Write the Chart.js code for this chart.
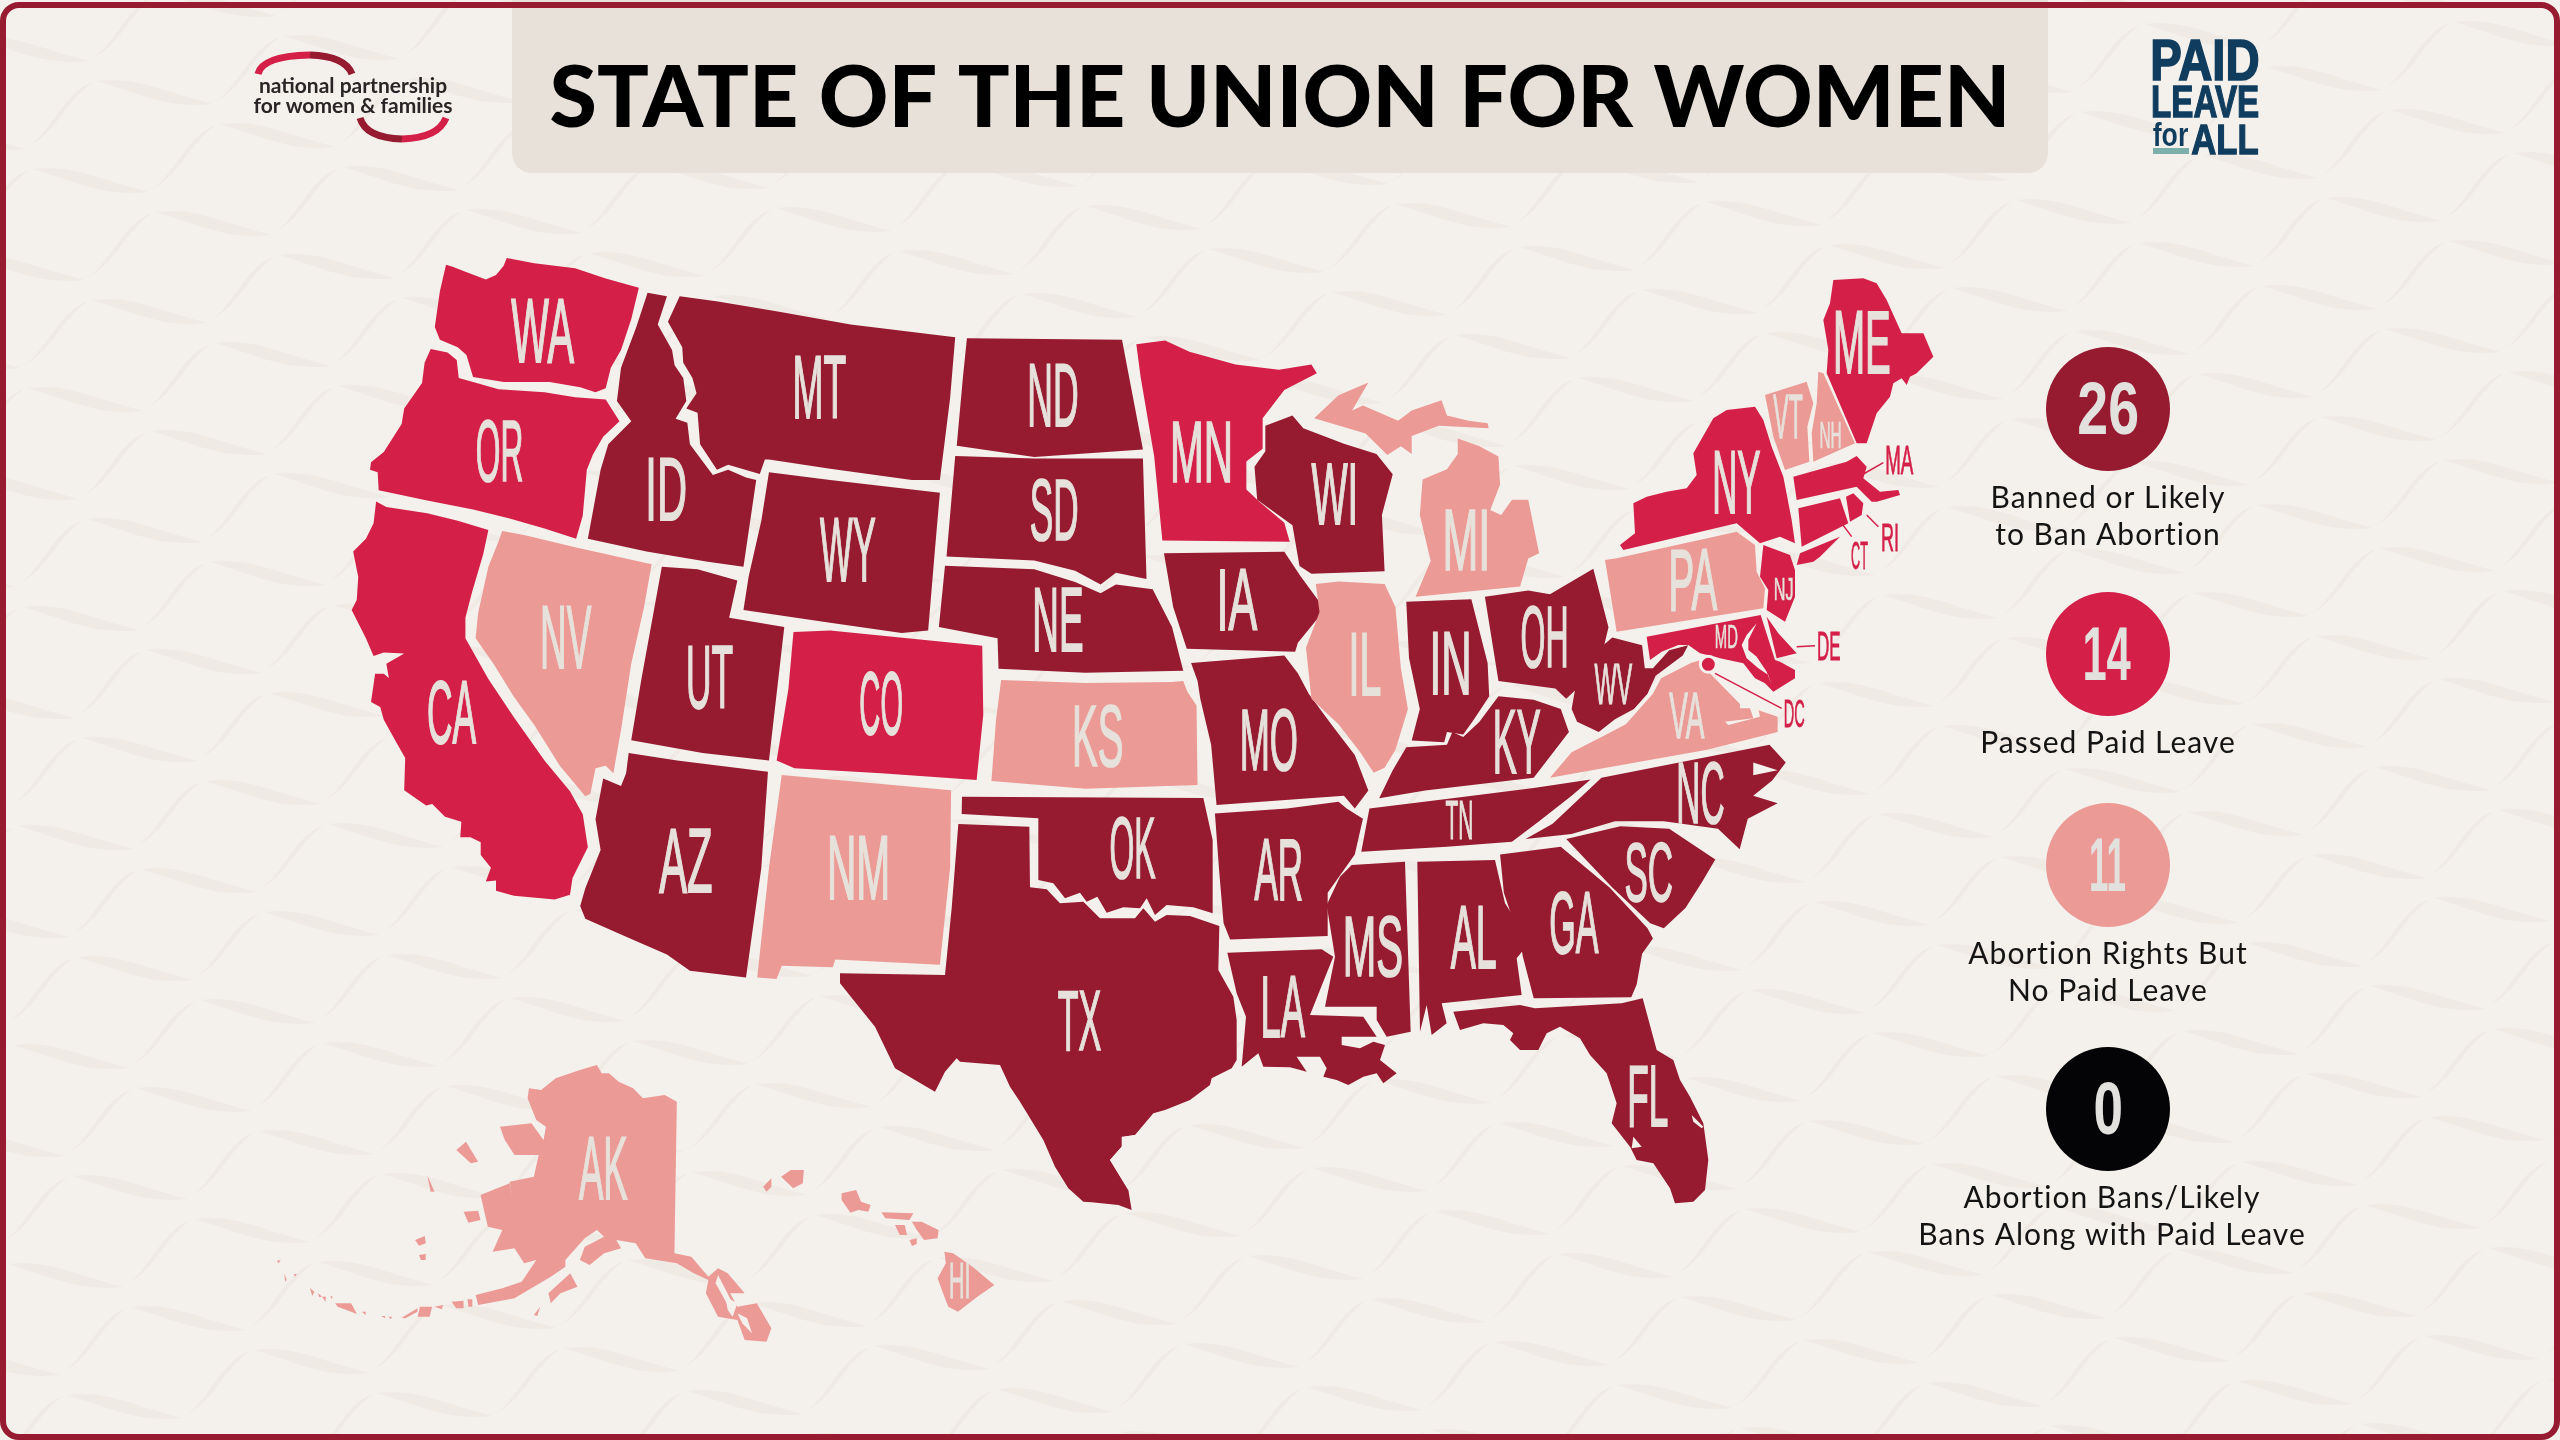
<!DOCTYPE html>
<html>
<head>
<meta charset="utf-8">
<title>State of the Union for Women</title>
<script src="https://cdn.jsdelivr.net/npm/chart.js@4"></script>
<style>
  html, body { margin: 0; padding: 0; background: #f4f1ec; }
  canvas { display: block; }
</style>
</head>
<body>
<canvas id="map" width="2560" height="1440"></canvas>
<script>
// categories
const bannedStates = ['ID', 'MT', 'WY', 'ND', 'SD', 'NE', 'UT', 'AZ', 'OK', 'TX', 'IA', 'MO', 'AR', 'LA', 'WI', 'IN', 'OH', 'KY', 'TN', 'WV', 'NC', 'SC', 'GA', 'FL', 'AL', 'MS'];
const paidLeaveStates = ['WA', 'OR', 'CA', 'CO', 'MN', 'NY', 'ME', 'MA', 'CT', 'RI', 'NJ', 'DE', 'MD', 'DC'];
const rightsStates = ['NV', 'NM', 'KS', 'IL', 'MI', 'PA', 'VT', 'NH', 'VA', 'AK', 'HI'];

// legend
const legendCounts = [26, 14, 11, 0];
const legendLabels = [
    ['Banned or Likely', 'to Ban Abortion'],
    ['Passed Paid Leave'],
    ['Abortion Rights But', 'No Paid Leave'],
    ['Abortion Bans/Likely', 'Bans Along with Paid Leave']
];
const legendColors = ['#961a30', '#d41f48', '#ec9a96', '#040406'];
const legendY = [409, 654, 865, 1109];

const titleText = 'STATE OF THE UNION FOR WOMEN';

// outlines were traced on crops of the map, each crop has its own offset and scale
const crops = {
    W: [320, 230, 0.5102, 0.5102],
    E: [1100, 260, 0.5421, 0.5102],
    N: [1600, 270, 1 / 3, 1 / 3],
    A: [260, 1040, 0.4847, 1 / 3],
    T: [820, 800, 1 / 3, 1 / 3],
    S: [1220, 860, 1 / 3, 1 / 3]
};

const outlines = [
    ['WA', 'W', [247,68,260,72,285,82,325,97,345,88,360,70,366,55,420,65,500,75,560,95,625,113,610,175,590,235,570,270,560,310,540,318,510,308,450,298,360,298,300,288,287,245,270,230,235,215,225,190,235,120]],
    ['OR', 'W', [217,233,250,240,268,255,272,290,300,298,350,312,440,318,500,328,560,332,587,375,555,405,535,440,523,470,515,560,502,605,440,585,370,565,300,548,210,530,115,510,113,475,98,470,100,455,125,435,160,380,165,350,200,300,205,260]],
    ['CA', 'W', [110,532,130,543,210,555,270,570,330,588,320,635,298,710,285,760,285,800,330,880,380,955,440,1040,490,1100,515,1145,525,1210,495,1270,490,1303,460,1312,380,1305,345,1295,345,1275,325,1277,335,1250,315,1225,315,1200,295,1190,275,1190,277,1160,245,1150,220,1125,208,1128,165,1098,167,1035,150,1005,125,960,118,935,100,925,108,870,125,870,135,878,130,850,165,830,125,828,105,835,90,800,62,745,72,725,75,680,65,630,90,605,105,575]],
    ['NV', 'W', [357,590,400,598,500,622,650,655,635,740,610,850,590,980,575,1065,560,1050,540,1055,530,1105,520,1110,470,1050,420,970,380,915,340,850,305,800,310,750,330,660,350,610]],
    ['ID', 'W', [642,123,680,130,662,185,690,235,695,265,712,290,718,335,697,370,720,378,725,420,770,480,800,470,835,485,855,490,830,660,760,650,640,630,525,605,550,470,565,420,610,375,582,335,590,270,620,190]],
    ['MT', 'W', [705,130,780,140,900,160,1040,185,1245,210,1235,330,1215,490,1160,490,1000,468,880,450,872,450,862,478,800,460,778,470,745,420,740,358,718,350,738,320,730,290,712,260,710,230,682,180]],
    ['WY', 'W', [880,475,1000,490,1215,515,1205,630,1192,785,1140,790,1000,770,830,745,840,680,865,570]],
    ['UT', 'W', [670,660,740,665,818,687,802,760,910,778,880,1040,750,1025,610,1000,630,880]],
    ['CO', 'W', [928,788,1000,785,1298,815,1300,950,1287,1078,1100,1065,930,1055,895,1040,918,900]],
    ['NM', 'W', [905,1068,1237,1098,1235,1250,1215,1440,1010,1430,1005,1445,905,1442,895,1468,857,1465,880,1250]],
    ['AZ', 'W', [605,1025,700,1040,878,1062,865,1250,835,1465,725,1452,680,1420,600,1385,520,1350,510,1325,520,1290,550,1215,540,1155,555,1075,590,1090,600,1065]],
    ['ND', 'W', [1268,212,1572,215,1582,268,1613,430,1400,445,1248,423,1260,290]],
    ['SD', 'W', [1245,443,1400,448,1613,448,1620,684,1560,672,1530,695,1480,668,1400,648,1228,640]],
    ['NE', 'W', [1225,658,1400,665,1480,690,1530,712,1560,695,1632,704,1670,778,1692,864,1500,868,1330,860,1328,800,1213,778]],
    ['KS', 'W', [1335,882,1500,888,1670,886,1692,884,1700,905,1718,932,1720,1088,1500,1095,1316,1080,1325,960]],
    ['OK', 'T', [426,-10,1150,-6,1178,120,1178,340,1120,322,1040,315,1005,345,980,295,960,325,910,322,860,338,832,290,800,305,780,278,735,295,700,250,655,240,655,55,425,42]],
    ['TX', 'T', [415,72,628,80,630,262,680,268,720,310,790,305,840,355,945,355,970,325,1005,365,1040,345,1110,348,1198,378,1195,510,1240,590,1250,660,1250,780,1235,805,1175,835,1170,855,1110,900,1035,930,1000,940,945,1005,915,1010,905,1040,870,1080,925,1170,935,1230,895,1215,815,1207,790,1205,745,1165,705,1100,670,1020,600,905,570,860,540,795,420,785,410,775,375,815,345,875,225,805,165,680,60,550,60,520,375,525,395,325]],
    ['LA', 'S', [22,278,305,268,340,290,320,340,270,465,430,470,470,530,365,530,365,555,420,565,460,545,495,555,480,600,530,640,490,670,470,640,430,650,385,675,350,660,310,650,320,625,300,590,230,590,260,635,210,622,130,620,115,580,65,620,78,470,50,400]],
    ['MS', 'S', [395,15,555,5,572,515,500,530,470,480,470,440,315,440,345,290,320,135,360,50]],
    ['AL', 'S', [592,5,825,0,855,130,930,245,890,295,905,405,665,430,680,490,635,525,620,435,600,515]],
    ['AR', 'E', [212,1085,345,1075,440,1062,455,1075,485,1095,470,1165,420,1240,420,1325,240,1332,228,1300,220,1200]],
    ['MO', 'E', [168,790,340,775,365,810,385,850,430,915,470,970,495,1040,470,1075,450,1050,215,1068,205,950,185,860,180,825]],
    ['IA', 'E', [118,575,340,572,370,620,415,685,365,750,360,768,160,762,135,680]],
    ['MN', 'E', [67,165,120,158,165,180,250,205,330,215,390,205,400,222,340,255,300,310,300,370,270,395,270,450,295,475,340,515,350,552,115,550,100,385,75,230]],
    ['WI', 'E', [305,325,355,305,375,330,450,360,510,380,540,420,520,500,525,610,390,615,368,600,355,520,290,470,285,405,305,375]],
    ['MI', 'E', [395,310,440,265,495,240,465,295,485,285,550,315,575,295,630,275,640,305,680,315,715,320,717,330,625,325,575,345,575,380,555,365,530,382,490,340]],
    ['MI', 'E', [660,350,700,365,735,385,738,440,720,490,740,500,760,470,790,470,810,575,790,585,775,640,582,660,610,590,590,500,595,430,640,410,660,380]],
    ['IL', 'E', [398,635,440,630,525,635,545,680,555,800,568,880,545,960,525,995,505,1005,480,965,440,910,390,860,380,760,405,690]],
    ['IN', 'E', [565,670,685,665,715,790,718,855,690,900,670,930,640,925,635,945,575,942,590,880,570,780]],
    ['OH', 'E', [710,660,790,648,830,655,910,605,938,720,920,800,860,860,840,840,735,825]],
    ['KY', 'E', [735,855,800,862,850,880,865,925,800,1015,600,1040,515,1055,540,1000,565,955,640,950,650,925,670,935,700,905]],
    ['TN', 'E', [497,1075,650,1055,800,1035,905,1018,870,1050,810,1100,760,1140,640,1150,482,1160]],
    ['WV', 'E', [945,740,1000,755,1005,800,1020,800,1050,765,1085,755,1075,775,1025,815,1010,850,985,880,950,900,920,925,880,905,870,880,880,820,890,790]],
    ['VA', 'E', [1105,785,1125,810,1180,870,1250,895,1250,925,1120,960,830,1015,870,965,925,935,970,910,1020,850,1035,820,1090,790]],
    ['NC', 'E', [925,1015,1235,950,1265,985,1240,1020,1205,1050,1250,1065,1195,1095,1180,1155,1140,1115,1040,1100,950,1100,870,1125,785,1135,835,1105,880,1060]],
    ['SC', 'E', [860,1135,960,1110,1050,1115,1135,1175,1110,1220,1080,1270,1040,1310,1015,1300,945,1230]],
    ['GA', 'E', [738,1165,850,1150,940,1230,1010,1310,1020,1330,1000,1360,990,1420,980,1445,800,1447,780,1365,775,1335,745,1240]],
    ['FL', 'S', [700,455,900,435,945,445,1205,430,1268,415,1310,570,1360,600,1380,660,1410,710,1450,790,1465,900,1455,990,1420,1025,1365,1030,1350,985,1300,910,1250,900,1230,860,1175,790,1190,730,1160,640,1110,585,1080,535,1020,500,980,520,955,570,900,570,870,540,880,520,850,495,790,490,720,510]],
    ['PA', 'N', [15,870,50,865,410,785,465,825,470,905,495,955,490,1015,50,1085]],
    ['NY', 'N', [60,825,105,790,100,700,140,680,200,665,260,655,290,615,280,550,340,445,380,420,465,410,490,450,515,530,550,620,575,750,585,820,540,800,480,820,410,760,70,840]],
    ['NY', 'N', [590,885,600,850,720,800,660,860,640,875]],
    ['NJ', 'N', [490,825,570,855,585,900,585,980,555,1055,500,1020,505,960,480,920]],
    ['VT', 'N', [495,375,620,335,640,400,622,470,628,575,555,600,520,500]],
    ['NH', 'N', [655,305,670,310,765,520,640,575,635,490,650,400]],
    ['ME', 'N', [700,30,790,25,830,40,860,90,905,190,970,190,1000,260,950,310,930,320,920,345,905,325,880,340,870,380,830,430,800,520,770,520,680,310,685,240,670,150,690,100]],
    ['MA', 'N', [580,620,740,575,770,558,800,590,790,625,840,665,895,660,900,675,830,695,815,695,770,650,590,690]],
    ['CT', 'N', [595,715,720,685,745,760,605,830]],
    ['RI', 'N', [738,680,760,670,790,700,785,735,750,755]],
    ['DE', 'N', [500,1040,535,1090,590,1150,530,1165]],
    ['MD', 'N', [140,1100,482,1035,525,1170,540,1175,585,1200,585,1225,520,1265,495,1240,465,1225,430,1180,360,1165,345,1160,300,1150,265,1125,235,1125,185,1145,150,1170]],
    ['AK', 'A', [555,145,580,150,610,115,660,90,695,75,705,100,720,100,740,125,770,145,790,175,835,165,860,185,855,640,890,650,925,710,945,685,965,700,1000,760,970,760,985,800,1025,790,1055,865,1045,905,1000,900,985,840,945,830,920,760,925,720,895,700,860,670,795,655,775,610,735,600,745,625,710,640,680,675,660,660,670,620,710,590,695,570,670,595,630,660,630,680,600,710,525,775,450,795,445,765,500,745,540,725,570,660,545,670,525,625,480,635,500,570,470,560,455,465,515,430,520,470,515,425,565,410,575,345,525,345,505,300,495,260,560,250,585,300,590,260,570,240,552,175]],
    ['AK', 'A', [405,330,425,305,450,365,435,370]],
    ['AK', 'A', [345,405,360,455,352,455]],
    ['AK', 'A', [420,515,450,512,455,540,430,548]],
    ['AK', 'A', [320,600,340,588,342,610,328,617]],
    ['AK', 'A', [328,645,342,642,342,660,332,660]],
    ['AK', 'A', [595,760,640,700,655,740,620,760,600,790]],
    ['AK', 'A', [565,825,578,800,572,828]],
    ['AK', 'A', [395,785,420,782,420,805,405,805]],
    ['AK', 'A', [428,778,438,778,438,800,430,800]],
    ['AK', 'A', [360,800,378,795,375,808]],
    ['AK', 'A', [330,800,355,800,350,830,325,830]],
    ['AK', 'A', [292,833,325,805,325,815,300,835]],
    ['AK', 'A', [250,828,258,828,258,835]],
    ['AK', 'A', [265,830,272,830,270,838]],
    ['AK', 'A', [210,815,218,815,218,825]],
    ['AK', 'A', [155,790,188,790,200,822,188,815,160,800]],
    ['AK', 'A', [103,745,112,755,108,768]],
    ['AK', 'A', [120,760,128,770,122,772]],
    ['AK', 'A', [128,770,136,770,135,785]],
    ['AK', 'A', [145,768,150,770,148,778]],
    ['AK', 'A', [50,700,55,720,52,725]],
    ['AK', 'A', [70,702,76,702,72,710]],
    ['AK', 'A', [35,662,43,660,38,670]],
    ['HI', 'A', [1038,440,1055,415,1055,440,1045,455]],
    ['HI', 'A', [1075,410,1095,390,1122,390,1120,430,1100,445]],
    ['HI', 'A', [1200,460,1230,450,1240,485,1260,495,1255,515,1235,510,1218,518,1200,480]],
    ['HI', 'A', [1282,517,1348,520,1340,540,1290,535]],
    ['HI', 'A', [1310,555,1330,555,1335,585,1320,585]],
    ['HI', 'A', [1345,545,1365,545,1400,570,1398,595,1370,600,1355,570]],
    ['HI', 'A', [1340,600,1355,595,1355,612,1345,618]],
    ['HI', 'A', [1412,635,1430,640,1470,680,1515,735,1480,770,1440,815,1420,800,1412,770,1398,715,1415,670]]
];

// water cut out of the shapes
const waterCuts = [
    ['N', [470,1060,440,1095,425,1125,440,1165,475,1195,505,1215,515,1245,500,1205,470,1160,445,1140,445,1110]],
    ['N', [420,1300,470,1290,480,1340,385,1365,375,1355,460,1345,450,1315,420,1315]],
    ['E', [1205,985,1250,1000,1205,1010]],
    ['T', [905,1010,945,1005,930,1040,915,1100,925,1170,870,1080,905,1040]],
    ['A', [945,705,975,790,965,795,940,730]],
    ['A', [985,820,1005,835,1015,880,995,850]],
    ['A', [960,770,985,790,975,830,965,810]],
    ['S', [1240,830,1265,860,1235,865]],
    ['S', [1415,765,1450,800,1445,805,1420,785]]
];

const leaderLines = [
    ['N', [785,615,850,578]],
    ['N', [800,735,835,770]],
    ['N', [725,760,755,800]],
    ['N', [590,1130,645,1127]],
    ['N', [345,1210,545,1315]]
];

// crop, code, box of the letters
const stateLabels = [
    ['W','WA',375,135,498,258], ['W','OR',308,372,396,493], ['W','CA',213,885,306,1008], ['W','NV',437,737,532,858],
    ['W','ID',645,447,716,568], ['W','MT',932,248,1030,370], ['W','WY',980,565,1088,687], ['W','UT',722,815,808,938],
    ['W','CO',1060,865,1140,990], ['W','AZ',665,1175,767,1297], ['W','NM',1000,1190,1112,1312], ['W','ND',1392,265,1484,385],
    ['W','SD',1394,488,1484,610], ['W','NE',1402,703,1494,825], ['W','KS',1480,930,1572,1052],
    ['T','OK',872,52,1006,238], ['T','TX',715,572,842,752],
    ['E','MN',135,318,240,436], ['E','IA',222,607,290,726], ['E','MO',263,882,362,1002], ['E','AR',285,1135,372,1255],
    ['E','WI',390,398,470,517], ['E','MI',638,490,713,607], ['E','IL',465,732,517,852], ['E','IN',615,730,680,850],
    ['E','OH',778,680,860,800], ['E','KY',730,882,812,1005], ['E','TN',638,1060,686,1136], ['E','WV',912,792,982,870],
    ['E','VA',1050,850,1115,937], ['E','NC',1068,985,1150,1105], ['E','SC',970,1140,1055,1258], ['E','GA',832,1238,920,1360],
    ['S','MS',378,168,545,352], ['S','LA',130,350,255,532], ['S','AL',692,140,827,325], ['S','FL',1230,615,1342,797],
    ['N','ME',708,127,868,310], ['N','NY',345,545,480,728], ['N','PA',215,838,352,1020], ['N','VT',520,372,607,505],
    ['N','NH',662,460,722,535], ['N','NJ',525,925,577,992], ['N','MD',348,1065,412,1135],
    ['A','AK',658,292,758,478], ['A','HI',1425,670,1462,775]
];
const outsideLabels = [
    ['N','MA',860,528,940,612], ['N','RI',847,760,892,843], ['N','CT',755,815,803,897], ['N','DE',655,1085,720,1170], ['N','DC',555,1290,613,1372]
];

const BG = '#f4f1ec';
const LETTER = '#e6e1da';
const CRIMSON = '#d41f48';
const NARROW = '"Liberation Sans Narrow", "Liberation Sans", sans-serif';

function toMap(crop, flat) {
    const c = crops[crop];
    const pts = [];
    for (let i = 0; i < flat.length; i += 2) {
        pts.push({ x: c[0] + flat[i] * c[2], y: c[1] + flat[i + 1] * c[3] });
    }
    return pts;
}

function stateColor(code) {
    if (bannedStates.includes(code)) return legendColors[0];
    if (paidLeaveStates.includes(code)) return legendColors[1];
    return legendColors[2];
}

// text stretched so the letters fill a box, extra thickens the strokes a bit
function fitText(ctx, text, x0, y0, x1, y1, color, weight, extra) {
    ctx.save();
    ctx.font = (weight || 'bold') + ' 100px ' + NARROW;
    ctx.textAlign = 'left';
    ctx.textBaseline = 'alphabetic';
    ctx.fillStyle = color;
    const m = ctx.measureText(text);
    const w = m.actualBoundingBoxRight + m.actualBoundingBoxLeft;
    const h = m.actualBoundingBoxAscent + m.actualBoundingBoxDescent;
    const sx = (x1 - x0) / w;
    const sy = (y1 - y0) / h;
    ctx.translate(x0 + m.actualBoundingBoxLeft * sx, y1 - m.actualBoundingBoxDescent * sy);
    ctx.scale(sx, sy);
    ctx.fillText(text, 0, 0);
    if (extra) {
        ctx.strokeStyle = color;
        ctx.lineWidth = extra;
        ctx.lineJoin = 'miter';
        ctx.strokeText(text, 0, 0);
    }
    ctx.restore();
}

function fitLabel(ctx, chart, row, color) {
    const a = toMap(row[0], [row[2], row[3], row[4], row[5]]);
    const sx = chart.scales.x;
    const sy = chart.scales.y;
    fitText(ctx, row[1], sx.getPixelForValue(a[0].x), sy.getPixelForValue(a[0].y), sx.getPixelForValue(a[1].x), sy.getPixelForValue(a[1].y), color, 'normal', 2);
}

function swoosh(ctx, x0, y0, x1, y1, fat) {
    const dx = x1 - x0;
    const dy = y1 - y0;
    ctx.beginPath();
    ctx.moveTo(x0, y0);
    ctx.bezierCurveTo(x0 + dx * 0.35, y0 + dy * 0.1 - fat, x0 + dx * 0.55, y0 + dy * 0.75 - fat, x1, y1);
    ctx.bezierCurveTo(x0 + dx * 0.6, y0 + dy * 0.9 + fat, x0 + dx * 0.4, y0 + dy * 0.3 + fat, x0, y0);
    ctx.fill();
}

const backdrop = {
    id: 'backdrop',
    beforeDraw(chart) {
        const ctx = chart.ctx;
        ctx.save();
        ctx.fillStyle = BG;
        ctx.fillRect(0, 0, 2560, 1440);
        // faint wave texture
        ctx.fillStyle = '#f0eae5';
        for (let i = -25; i <= 25; i++) {
            for (let j = -25; j <= 25; j++) {
                const x = 80 + i * 187 + j * 123;
                const y = 1178 - i * 45 + j * 43;
                if (x < -250 || x > 2600 || y < -100 || y > 1540) continue;
                swoosh(ctx, x - 8, y - 2, x + 108, y + 21, 7);
                swoosh(ctx, x + 112, y + 17, x + 176, y - 46, 8);
            }
        }
        // title panel
        ctx.fillStyle = '#e7e1da';
        ctx.beginPath();
        ctx.roundRect(512, -30, 1536, 203, 20);
        ctx.fill();
        // frame
        ctx.strokeStyle = '#961a30';
        ctx.lineWidth = 6;
        ctx.beginPath();
        ctx.roundRect(3, 5, 2554, 1432, 16);
        ctx.stroke();
        ctx.restore();
    }
};

const stateFill = {
    id: 'stateFill',
    beforeDatasetsDraw(chart) {
        const ctx = chart.ctx;
        ctx.save();
        chart.data.datasets.forEach((ds, i) => {
            if (!ds.shapeColor) return;
            const pts = chart.getDatasetMeta(i).data;
            ctx.beginPath();
            pts.forEach((p, k) => { if (k) ctx.lineTo(p.x, p.y); else ctx.moveTo(p.x, p.y); });
            ctx.closePath();
            ctx.fillStyle = ds.shapeColor;
            ctx.fill();
        });
        ctx.restore();
    }
};

const textLayer = {
    id: 'textLayer',
    afterDatasetsDraw(chart) {
        const ctx = chart.ctx;
        stateLabels.forEach(r => fitLabel(ctx, chart, r, LETTER));
        outsideLabels.forEach(r => fitLabel(ctx, chart, r, CRIMSON));

        // legend numbers and captions
        ctx.save();
        ctx.textAlign = 'center';
        legendCounts.forEach((n, i) => {
            const cy = chart.scales.y.getPixelForValue(legendY[i]);
            const cx = chart.scales.x.getPixelForValue(2108);
            const half = String(n).length === 2 ? (n === 11 ? 17 : (n === 14 ? 23 : 29)) : 13;
            fitText(ctx, String(n), cx - half, cy - 27, cx + half, cy + 26, '#e3e1de');
            ctx.fillStyle = '#141414';
            ctx.font = '30px Lato';
            ctx.letterSpacing = '1px';
            ctx.textBaseline = 'middle';
            legendLabels[i].forEach((line, k) => ctx.fillText(line, cx + (i === 3 ? 4 : 0), cy + 89 + k * 37));
            ctx.letterSpacing = '0px';
        });
        ctx.restore();

        // national partnership logo
        ctx.save();
        ctx.textAlign = 'center';
        ctx.textBaseline = 'middle';
        ctx.fillStyle = '#2a2426';
        ctx.font = '700 21px Lato';
        ctx.fillText('national partnership', 353, 86);
        ctx.fillText('for women & families', 353, 106);
        ctx.lineWidth = 7;
        ctx.lineCap = 'butt';
        const arc = (x0, y0, cx, cy, x1, y1, col) => {
            ctx.strokeStyle = col;
            ctx.beginPath();
            ctx.moveTo(x0, y0);
            ctx.quadraticCurveTo(cx, cy, x1, y1);
            ctx.stroke();
        };
        arc(258, 74, 262, 56, 310, 55, CRIMSON);
        arc(310, 55, 345, 56, 352, 74, '#961a30');
        arc(360, 118, 366, 138, 402, 139, '#961a30');
        arc(402, 139, 438, 138, 446, 118, CRIMSON);
        ctx.restore();

        // paid leave for all logo
        const navy = '#103c5e';
        fitText(ctx, 'PAID', 2153, 40, 2258, 81, navy, 'bold', 3);
        fitText(ctx, 'LEAVE', 2153, 86, 2258, 117, navy, 'bold', 3);
        fitText(ctx, 'for', 2153, 122, 2188, 146, navy);
        fitText(ctx, 'ALL', 2192, 124, 2258, 154, navy, 'bold', 3);
        ctx.save();
        ctx.fillStyle = '#7db0ab';
        ctx.fillRect(2153, 148, 36, 6);
        ctx.restore();
    }
};

const datasets = [];
// library draws the first dataset on top
datasets.push({
    label: 'Legend',
    data: legendY.map(y => ({ x: 2108, y: y })),
    pointRadius: 62,
    pointHoverRadius: 62,
    pointBackgroundColor: legendColors,
    pointBorderWidth: 0
});
datasets.push({
    label: 'DC',
    data: toMap('N', [325, 1183]),
    pointRadius: 8,
    pointBackgroundColor: CRIMSON,
    pointBorderColor: BG,
    pointBorderWidth: 3
});
leaderLines.forEach(l => datasets.push({
    label: 'leader',
    data: toMap(l[0], l[1]),
    showLine: true,
    borderColor: CRIMSON,
    borderWidth: 1.5,
    pointRadius: 0
}));
outlines.forEach(o => datasets.push({
    label: o[0],
    data: toMap(o[1], o[2]),
    pointRadius: 0,
    shapeColor: stateColor(o[0])
}));
// water has to paint after the land
waterCuts.forEach(c => datasets.push({
    label: 'water',
    data: toMap(c[0], c[1]),
    pointRadius: 0,
    shapeColor: BG
}));

new Chart(document.getElementById('map'), {
    type: 'scatter',
    data: { datasets: datasets },
    options: {
        responsive: false,
        animation: false,
        devicePixelRatio: 1,
        layout: { padding: 0, autoPadding: false },
        scales: {
            x: { type: 'linear', min: 0, max: 2560, display: false },
            y: { type: 'linear', min: 145, max: 1440, reverse: true, display: false }
        },
        plugins: {
            legend: { display: false },
            tooltip: { enabled: false },
            title: {
                display: true,
                text: titleText,
                color: '#000000',
                font: { family: 'Lato', weight: '900', size: 86, lineHeight: 1 },
                padding: { top: 56, bottom: 3 }
            }
        }
    },
    plugins: [backdrop, stateFill, textLayer]
});
</script>
</body>
</html>
